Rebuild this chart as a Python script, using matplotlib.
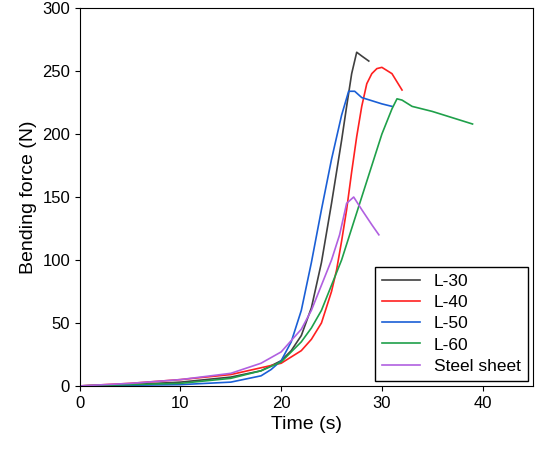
import matplotlib
matplotlib.use("Agg")
import matplotlib.pyplot as plt

plt.rcParams['font.family'] = ['Liberation Sans', 'DejaVu Sans']

# Time (s) / force (N)
t30 = [0, 5, 10, 15, 18, 20, 21, 22, 23, 24, 25, 26, 26.5, 27, 27.5, 28, 28.7]
f30 = [0, 1, 3, 7, 12, 20, 28, 40, 62, 98, 145, 195, 222, 248, 265, 262, 258]
t40 = [0, 5, 10, 15, 20, 22, 23, 24, 25, 25.5, 26, 26.5, 27, 27.5, 28, 28.5, 29, 29.5, 30, 31, 32]
f40 = [0, 2, 5, 9, 18, 28, 37, 50, 75, 92, 115, 140, 170, 198, 222, 240, 248, 252, 253, 248, 235]
t50 = [0, 10, 15, 18, 19, 20, 21, 22, 23, 24, 25, 26, 26.7, 27.3, 28, 30, 31]
f50 = [0, 1, 3, 8, 13, 20, 35, 60, 98, 140, 180, 215, 234, 234, 229, 224, 222]
t60 = [0, 10, 15, 18, 20, 22, 23, 24, 25, 26, 27, 28, 29, 30, 31, 31.5, 32, 33, 35, 37, 39]
f60 = [0, 2, 6, 12, 19, 35, 46, 60, 80, 100, 125, 150, 175, 200, 220, 228, 227, 222, 218, 213, 208]
tst = [0, 5, 10, 15, 18, 20, 22, 23, 24, 25, 25.8, 26.5, 27.2, 28, 29, 29.7]
fst = [0, 2, 5, 10, 18, 27, 45, 60, 80, 100, 120, 145, 150, 140, 128, 120]

fig = plt.figure(figsize=(5.5, 4.54), dpi=100)
ax = fig.add_axes([0.145, 0.15, 0.824, 0.832])
ax.plot(t30, f30, color='#404040', lw=1.2, label='L-30')
ax.plot(t40, f40, color='#ff2020', lw=1.2, label='L-40')
ax.plot(t50, f50, color='#1a5fd6', lw=1.2, label='L-50')
ax.plot(t60, f60, color='#1fa04a', lw=1.2, label='L-60')
ax.plot(tst, fst, color='#b060e0', lw=1.2, label='Steel sheet')
ax.set_xlim(0, 45)
ax.set_ylim(0, 300)
ax.set_xticks([0, 10, 20, 30, 40])
ax.set_yticks(range(0, 301, 50))
ax.tick_params(labelsize=12)
ax.set_xlabel('Time (s)', fontsize=14)
ax.set_ylabel('Bending force (N)', fontsize=14)
ax.legend(loc='lower right', fontsize=12.5, fancybox=False, edgecolor='black',
          framealpha=1, borderaxespad=0.3, labelspacing=0.35, handlelength=2.2)
fig.savefig('out.png', dpi=100)
